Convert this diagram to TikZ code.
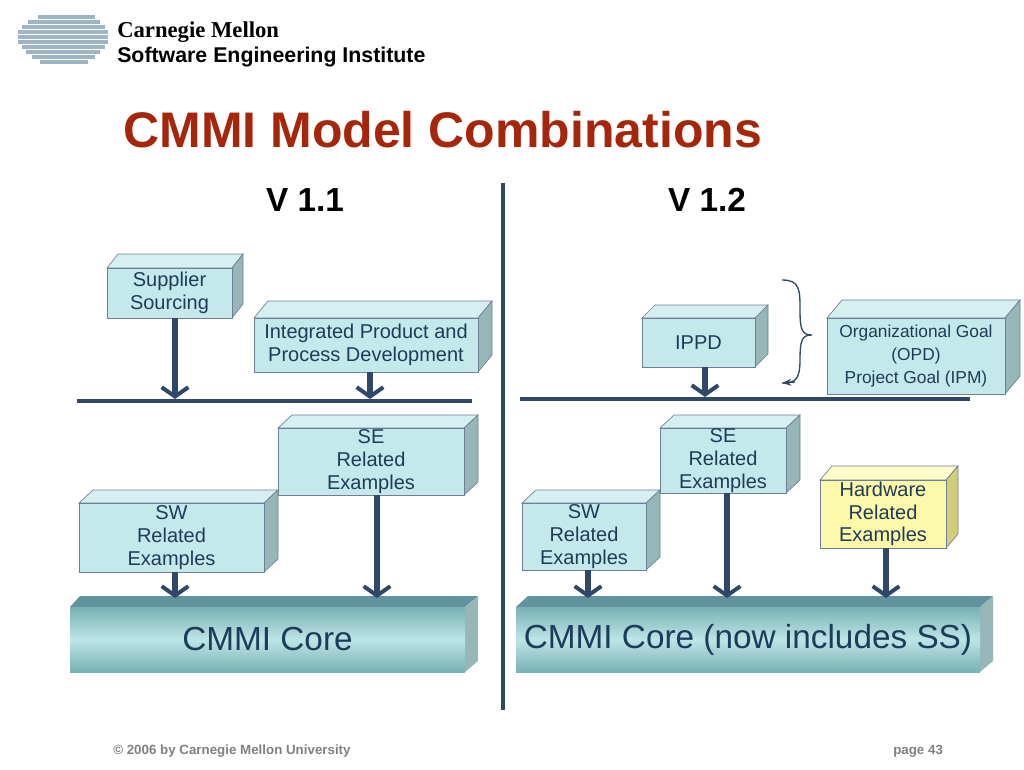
\documentclass[tikz,border=0pt]{standalone}
\usepackage{fontspec}
\setmainfont{Liberation Sans}
\newfontfamily\logoserif{Liberation Serif}
\usetikzlibrary{arrows.meta,decorations.pathreplacing}
\definecolor{slate}{RGB}{47,72,104}
\definecolor{boxtxt}{RGB}{30,60,90}
\definecolor{boxfront}{RGB}{197,232,234}
\definecolor{boxtop}{RGB}{214,240,242}
\definecolor{boxside}{RGB}{150,182,184}
\definecolor{hwfront}{RGB}{252,250,170}
\definecolor{hwtop}{RGB}{254,252,200}
\definecolor{hwside}{RGB}{210,205,120}
\definecolor{titlered}{RGB}{166,38,12}
\definecolor{corefront}{RGB}{120,178,180}
\definecolor{corelight}{RGB}{190,228,230}
\definecolor{stripe}{RGB}{160,180,200}
\tikzset{
  front/.style={draw=slate!70,line width=0.5pt,inner sep=0pt,align=center,text=boxtxt,font=\fontsize{15}{17}\selectfont},
  facet/.style={draw=slate!70,line width=0.5pt},
  feed/.style={slate,line width=4.5pt,-{Straight Barb[length=7pt,width=20pt,line width=3pt]}},
  bar/.style={slate,line width=3.5pt},
}
% name, x1, y1, x2, y2, depth x, depth y, colour prefix, text
\newcommand\cuboid[9]{%
  \pgfmathsetmacro\cw{(#4-#2)*0.75}\pgfmathsetmacro\ch{(#5-#3)*0.75}
  \fill[#8top,facet] (#2,#3) -- ++(#6,-#7) -- (#4+#6,#3-#7) -- (#4,#3) -- cycle;
  \fill[#8side,facet] (#4,#3) -- ++(#6,-#7) -- (#4+#6,#5-#7) -- (#4,#5) -- cycle;
  \node[front,fill=#8front,minimum width=\cw pt,minimum height=\ch pt] (#1) at ({(#2+#4)/2},{(#3+#5)/2}) {#9};
}
\begin{document}
\begin{tikzpicture}[x=0.75pt,y=-0.75pt]
\useasboundingbox (0,0) rectangle (1024,770);

% logo
\foreach \y/\a/\b in {17/38/95,22/28/100,27/22/105,32/18/108,37/18/108,42/18/108,47/22/105,52/26/100,57/32/95,62/40/88}
  \draw[stripe,line width=2.6pt] (\a,\y) -- (\b,\y);
\node[anchor=west,inner sep=0pt] (cmu) at (117,32) {\logoserif\bfseries\fontsize{17}{19}\selectfont Carnegie Mellon};
\node[anchor=west,inner sep=0pt] (sei) at (117,57) {\bfseries\fontsize{16}{18}\selectfont Software Engineering Institute};

% title
\node[anchor=west,inner sep=0pt,text=titlered] (title) at (123,130) {\bfseries\fontsize{37.5}{40}\selectfont CMMI Model Combinations};
\node (v11) at (305,200) {\bfseries\fontsize{25}{28}\selectfont V 1.1};
\node (v12) at (707,200) {\bfseries\fontsize{25}{28}\selectfont V 1.2};
\coordinate (divtop) at (503,183);
\coordinate (divbot) at (503,710);
\draw[slate,line width=3pt] (divtop) -- (divbot);

% V 1.1
\cuboid{supp}{107}{268}{232}{318}{11}{14}{box}{Supplier\\Sourcing}
\cuboid{ippd}{254}{318}{478}{372}{14}{17}{box}{Integrated Product and\\Process Development}
\coordinate (lbarl) at (77,401);
\coordinate (lbarr) at (472,401);
\draw[bar] (lbarl) -- (lbarr);
\draw[feed] (supp.south -| 175,0) -- (175,399);
\draw[feed] (ippd.south -| 370,0) -- (370,399);
\cuboid{sel}{278}{428}{464}{495}{14}{13}{box}{SE\\Related\\Examples}
\cuboid{swl}{79}{503}{264}{572}{14}{13}{box}{SW\\Related\\Examples}
\fill[corefront!70!slate] (70,607) -- (80,596) -- (478,596) -- (465,607) -- cycle;
\fill[boxside] (465,607) -- (478,596) -- (478,661) -- (465,672) -- cycle;
\node[front,draw=none,top color=corefront,bottom color=corefront,middle color=corelight,minimum width=296.25pt,minimum height=48.75pt,font=\fontsize{25}{28}\selectfont] (corel) at (267.5,639.5) {CMMI Core};
\draw[feed] (swl.south -| 175,0) -- (175,598);
\draw[feed] (sel.south -| 377,0) -- (377,598);

% V 1.2
\cuboid{ippdr}{642}{318}{755}{367}{13}{13}{box}{IPPD}
\cuboid{goal}{827}{318}{1005}{394}{15}{18}{box}{\fontsize{13}{15}\selectfont Organizational Goal\\\fontsize{13}{15}\selectfont (OPD)\\\fontsize{13}{15}\selectfont Project Goal (IPM)}
\coordinate (rbarl) at (520,399);
\coordinate (rbarr) at (970,399);
\draw[bar] (rbarl) -- (rbarr);
\draw[feed] (ippdr.south -| 705,0) -- (705,397);
\coordinate (brt) at (782,280);
\coordinate (brb) at (782,383);
\draw[slate,line width=1pt] (brt) .. controls (800,280) and (800,290) .. (800,310)
  .. controls (800,330) and (802,335) .. (812,335)
  .. controls (802,335) and (800,340) .. (800,360)
  .. controls (800,380) and (795,383) .. (brb);
\draw[slate,line width=1pt,-{Stealth[length=7pt]}] (795,382) -- (brb);
\cuboid{ser}{660}{428}{786}{493}{14}{13}{box}{SE\\Related\\Examples}
\cuboid{swr}{522}{503}{646}{570}{14}{13}{box}{SW\\Related\\Examples}
\cuboid{hw}{820}{480}{946}{548}{12}{14}{hw}{Hardware\\Related\\Examples}
\fill[corefront!70!slate] (516,607) -- (528,596) -- (993,596) -- (980,607) -- cycle;
\fill[boxside] (980,607) -- (993,596) -- (993,661) -- (980,672) -- cycle;
\node[front,draw=none,top color=corefront,bottom color=corefront,middle color=corelight,minimum width=348pt,minimum height=48.75pt,font=\fontsize{25}{28}\selectfont] (corer) at (748,639.5) {CMMI Core (now includes SS)};
\draw[feed] (swr.south -| 588,0) -- (588,598);
\draw[feed] (ser.south -| 727,0) -- (727,598);
\draw[feed] (hw.south -| 886,0) -- (886,598);

% footer
\node[anchor=west,inner sep=0pt,text=gray] (copy) at (113,751) {\bfseries\fontsize{10}{12}\selectfont © 2006 by Carnegie Mellon University};
\node[anchor=west,inner sep=0pt,text=gray] (page) at (893,751) {\bfseries\fontsize{10}{12}\selectfont page 43};
\end{tikzpicture}
\end{document}
